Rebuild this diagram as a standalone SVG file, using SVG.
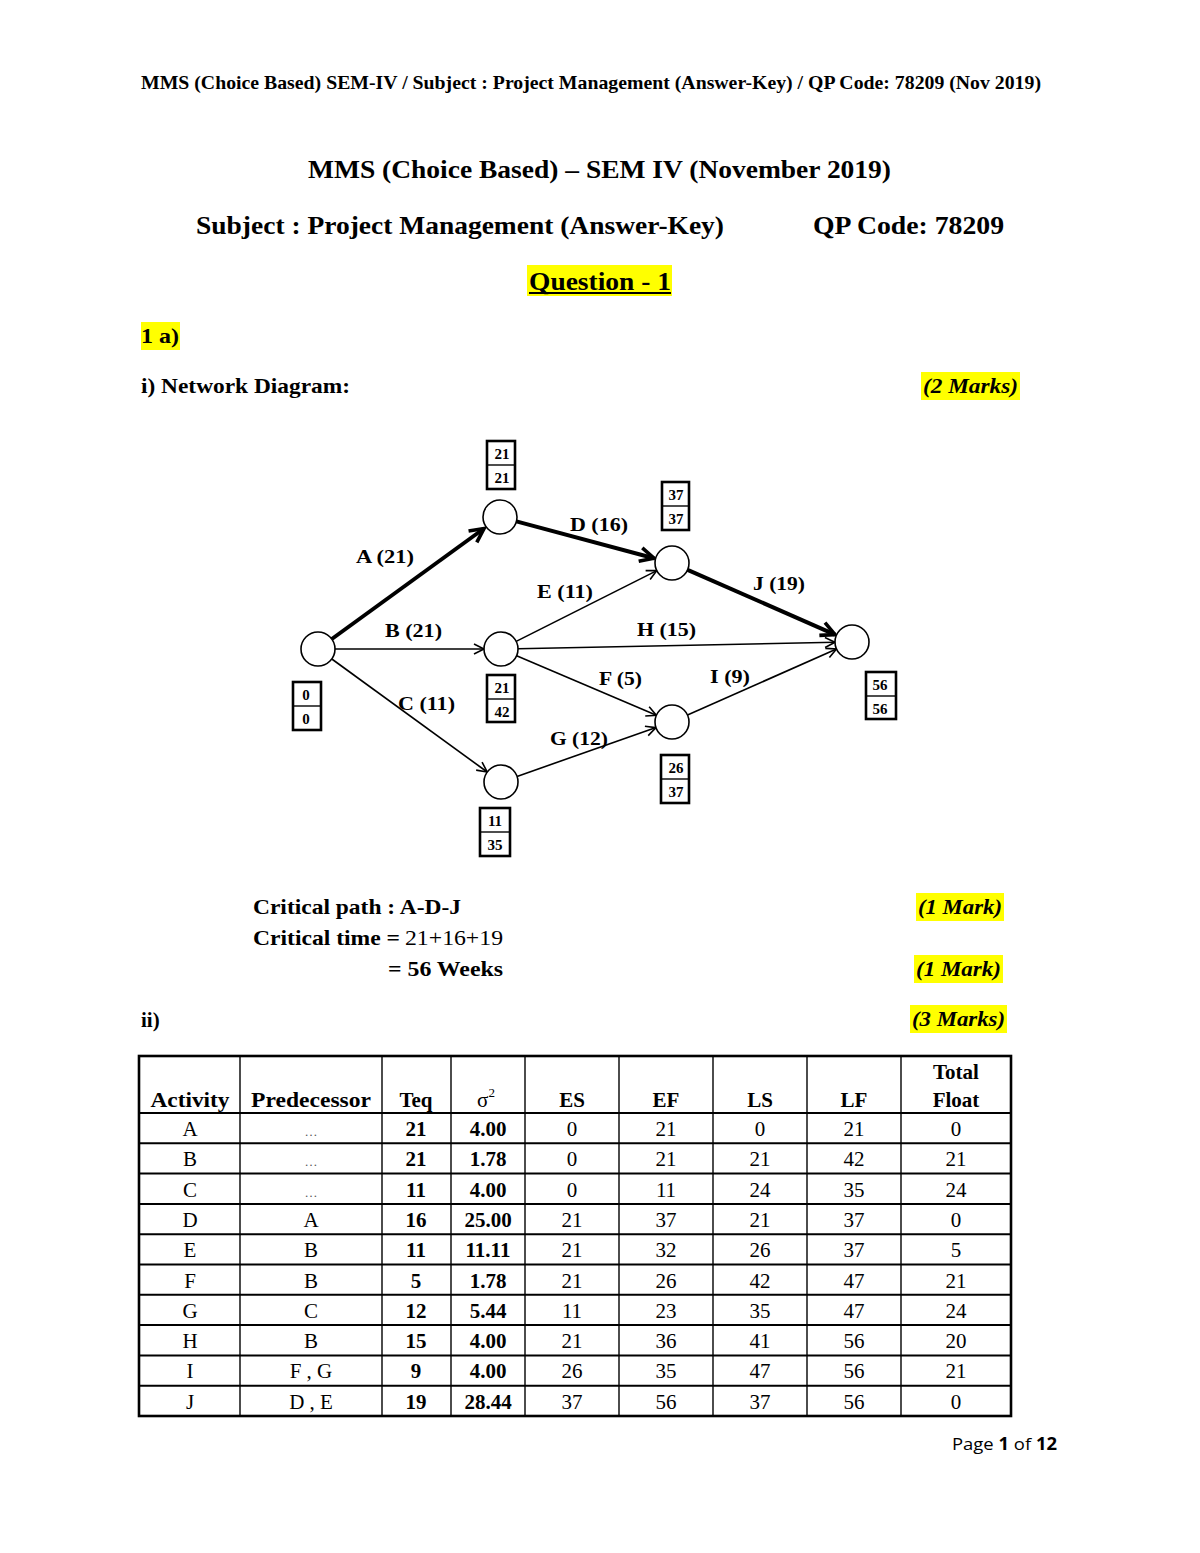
<svg xmlns="http://www.w3.org/2000/svg" width="1200" height="1553" viewBox="0 0 1200 1553">
<style>
text{font-family:"Liberation Serif","Times New Roman",serif;fill:#000}
.b{font-weight:bold}
.i{font-style:italic}
.hl{fill:#FFFF00}
.node{fill:#fff;stroke:#000;stroke-width:1.6}
.box{fill:#fff;stroke:#000;stroke-width:2.6}
.div{stroke:#000;stroke-width:1.4}
.bt{font-size:15px;font-weight:bold;text-anchor:middle}
.thin{stroke:#000;stroke-width:1.6;fill:none;marker-end:url(#ah)}
.thick{stroke:#000;stroke-width:4;fill:none;marker-end:url(#ahb)}
.lbl{font-size:18px;font-weight:bold}
.tc{font-size:21px;text-anchor:middle}
.tb{font-size:21px;text-anchor:middle;font-weight:bold}
.dots{font-size:13px;text-anchor:middle;fill:#555}
.hline{stroke:#000;stroke-width:2}
.vline{stroke:#000;stroke-width:1.4}
</style>
<defs>
<marker id="ah" viewBox="-13 -8 15 16" markerWidth="15" markerHeight="16" refX="0" refY="0" orient="auto" markerUnits="userSpaceOnUse">
<path d="M-10,-5 L0,0 L-10,5" fill="none" stroke="#000" stroke-width="1.6"/>
</marker>
<marker id="ahb" viewBox="-18 -11 22 22" markerWidth="22" markerHeight="22" refX="0" refY="0" orient="auto" markerUnits="userSpaceOnUse">
<path d="M-14,-7 L0,0 L-14,7" fill="none" stroke="#000" stroke-width="3.6"/>
</marker>
</defs>
<rect width="1200" height="1553" fill="#fff"/>

<!-- Header -->
<text x="141" y="89" class="b" font-size="19" textLength="900" lengthAdjust="spacingAndGlyphs">MMS (Choice Based) SEM-IV / Subject : Project Management (Answer-Key) /  QP Code: 78209 (Nov 2019)</text>

<text x="308" y="178" class="b" font-size="26" textLength="583" lengthAdjust="spacingAndGlyphs">MMS (Choice Based) – SEM IV (November 2019)</text>
<text x="196" y="234" class="b" font-size="26" textLength="528" lengthAdjust="spacingAndGlyphs">Subject : Project Management (Answer-Key)</text>
<text x="813" y="234" class="b" font-size="26" textLength="191" lengthAdjust="spacingAndGlyphs">QP Code: 78209</text>

<rect x="527" y="265" width="145" height="31" class="hl"/>
<text x="529" y="290" class="b" font-size="26" textLength="142" lengthAdjust="spacingAndGlyphs">Question - 1</text>
<line x1="529" y1="293" x2="671" y2="293" stroke="#000" stroke-width="2"/>

<rect x="141" y="322" width="39" height="28" class="hl"/>
<text x="141" y="343" class="b" font-size="22" textLength="38" lengthAdjust="spacingAndGlyphs">1 a)</text>

<text x="141" y="393" class="b" font-size="21" textLength="209" lengthAdjust="spacingAndGlyphs">i) Network Diagram:</text>
<rect x="921" y="372" width="99" height="28" class="hl"/>
<text x="923" y="393" class="b i" font-size="21" textLength="95" lengthAdjust="spacingAndGlyphs">(2 Marks)</text>

<!-- Connectors -->
<g id="connectors">
<line id="e-A" x1="331.8" y1="639" x2="484" y2="528.5" class="thick"/>
<line id="e-D" x1="516.4" y1="521.4" x2="654" y2="558.2" class="thick"/>
<line id="e-J" x1="687.6" y1="569.8" x2="835" y2="634.6" class="thick"/>
<line id="e-B" x1="335" y1="649" x2="484" y2="649" class="thin"/>
<line id="e-C" x1="331.8" y1="659" x2="487.2" y2="772" class="thin"/>
<line id="e-E" x1="516.2" y1="641.4" x2="656.8" y2="570.6" class="thin"/>
<line id="e-H" x1="518" y1="648.7" x2="835" y2="642.3" class="thin"/>
<line id="e-F" x1="516.6" y1="655.7" x2="656.4" y2="715.3" class="thin"/>
<line id="e-G" x1="517" y1="776.4" x2="656" y2="727.6" class="thin"/>
<line id="e-I" x1="687.5" y1="715.1" x2="836.5" y2="648.9" class="thin"/>
<text x="356" y="563" class="lbl" textLength="58" lengthAdjust="spacingAndGlyphs">A (21)</text>
<text x="570" y="531" class="lbl" textLength="58" lengthAdjust="spacingAndGlyphs">D (16)</text>
<text x="385" y="637" class="lbl" textLength="57" lengthAdjust="spacingAndGlyphs">B (21)</text>
<text x="537" y="598" class="lbl" textLength="56" lengthAdjust="spacingAndGlyphs">E (11)</text>
<text x="753" y="590" class="lbl" textLength="52" lengthAdjust="spacingAndGlyphs">J (19)</text>
<text x="637" y="636" class="lbl" textLength="59" lengthAdjust="spacingAndGlyphs">H (15)</text>
<text x="599" y="685" class="lbl" textLength="43" lengthAdjust="spacingAndGlyphs">F (5)</text>
<text x="710" y="683" class="lbl" textLength="40" lengthAdjust="spacingAndGlyphs">I (9)</text>
<text x="398" y="710" class="lbl" textLength="57" lengthAdjust="spacingAndGlyphs">C (11)</text>
<text x="550" y="745" class="lbl" textLength="58" lengthAdjust="spacingAndGlyphs">G (12)</text>
</g>

<!-- Nodes -->
<g id="n1"><circle cx="318" cy="649" r="17" class="node"/>
<rect x="293" y="682" width="28" height="48" class="box"/><line x1="293" y1="706" x2="321" y2="706" class="div"/>
<text x="306" y="700" class="bt">0</text><text x="306" y="724" class="bt">0</text></g>
<g id="n2"><circle cx="500" cy="517" r="17" class="node"/>
<rect x="487" y="441" width="28" height="48" class="box"/><line x1="487" y1="465" x2="515" y2="465" class="div"/>
<text x="502" y="459" class="bt">21</text><text x="502" y="483" class="bt">21</text></g>
<g id="n3"><circle cx="501" cy="649" r="17" class="node"/>
<rect x="487" y="675" width="28" height="47" class="box"/><line x1="487" y1="699" x2="515" y2="699" class="div"/>
<text x="502" y="693" class="bt">21</text><text x="502" y="717" class="bt">42</text></g>
<g id="n4"><circle cx="672" cy="563" r="17" class="node"/>
<rect x="662" y="482" width="27" height="48" class="box"/><line x1="662" y1="506" x2="689" y2="506" class="div"/>
<text x="676" y="500" class="bt">37</text><text x="676" y="524" class="bt">37</text></g>
<g id="n5"><circle cx="852" cy="642" r="17" class="node"/>
<rect x="866" y="672" width="30" height="47" class="box"/><line x1="866" y1="696" x2="896" y2="696" class="div"/>
<text x="880" y="690" class="bt">56</text><text x="880" y="714" class="bt">56</text></g>
<g id="n6"><circle cx="672" cy="722" r="17" class="node"/>
<rect x="661" y="755" width="28" height="48" class="box"/><line x1="661" y1="779" x2="689" y2="779" class="div"/>
<text x="676" y="773" class="bt">26</text><text x="676" y="797" class="bt">37</text></g>
<g id="n7"><circle cx="501" cy="782" r="17" class="node"/>
<rect x="480" y="808" width="30" height="48" class="box"/><line x1="480" y1="832" x2="510" y2="832" class="div"/>
<text x="495" y="826" class="bt">11</text><text x="495" y="850" class="bt">35</text></g>

<!-- Critical path -->
<text x="253" y="914" class="b" font-size="21" textLength="208" lengthAdjust="spacingAndGlyphs">Critical path : A-D-J</text>
<rect x="916" y="893" width="88" height="28" class="hl"/>
<text x="918" y="914" class="b i" font-size="21" textLength="84" lengthAdjust="spacingAndGlyphs">(1 Mark)</text>
<text x="253" y="945" font-size="21" class="b" textLength="147" lengthAdjust="spacingAndGlyphs">Critical time =</text>
<text x="405" y="945" font-size="21" textLength="98" lengthAdjust="spacingAndGlyphs">21+16+19</text>
<text x="388" y="976" class="b" font-size="21" textLength="115" lengthAdjust="spacingAndGlyphs">= 56 Weeks</text>
<rect x="914" y="955" width="89" height="28" class="hl"/>
<text x="916" y="976" class="b i" font-size="21" textLength="85" lengthAdjust="spacingAndGlyphs">(1 Mark)</text>
<text x="141" y="1027" class="b" font-size="21">ii)</text>
<rect x="910" y="1005" width="97" height="28" class="hl"/>
<text x="912" y="1026" class="b i" font-size="21" textLength="93" lengthAdjust="spacingAndGlyphs">(3 Marks)</text>

<!-- Table -->
<g id="table">
<g class="hline">
<line x1="139" y1="1113" x2="1011" y2="1113"/>
<line x1="139" y1="1143.3" x2="1011" y2="1143.3"/>
<line x1="139" y1="1173.6" x2="1011" y2="1173.6"/>
<line x1="139" y1="1204" x2="1011" y2="1204"/>
<line x1="139" y1="1234.2" x2="1011" y2="1234.2"/>
<line x1="139" y1="1264.5" x2="1011" y2="1264.5"/>
<line x1="139" y1="1294.8" x2="1011" y2="1294.8"/>
<line x1="139" y1="1325.1" x2="1011" y2="1325.1"/>
<line x1="139" y1="1355.4" x2="1011" y2="1355.4"/>
<line x1="139" y1="1385.7" x2="1011" y2="1385.7"/>
</g>
<g class="vline">
<line x1="240" y1="1056" x2="240" y2="1416"/>
<line x1="382" y1="1056" x2="382" y2="1416"/>
<line x1="451" y1="1056" x2="451" y2="1416"/>
<line x1="525" y1="1056" x2="525" y2="1416"/>
<line x1="619" y1="1056" x2="619" y2="1416"/>
<line x1="713" y1="1056" x2="713" y2="1416"/>
<line x1="807" y1="1056" x2="807" y2="1416"/>
<line x1="901" y1="1056" x2="901" y2="1416"/>
</g>
<rect x="139" y="1056" width="872" height="360" fill="none" stroke="#000" stroke-width="2.6"/>

<text x="190" y="1107" class="tb" textLength="79" lengthAdjust="spacingAndGlyphs">Activity</text>
<text x="311" y="1107" class="tb" textLength="120" lengthAdjust="spacingAndGlyphs">Predecessor</text>
<text x="416" y="1107" class="tb">Teq</text>
<text x="486" y="1107" class="tc">σ<tspan font-size="13" dy="-10">2</tspan></text>
<text x="572" y="1107" class="tb">ES</text>
<text x="666" y="1107" class="tb">EF</text>
<text x="760" y="1107" class="tb">LS</text>
<text x="854" y="1107" class="tb">LF</text>
<text x="956" y="1079" class="tb">Total</text>
<text x="956" y="1107" class="tb">Float</text>

<g id="rowA"><text x="190" y="1136" class="tc">A</text><text x="311" y="1136" class="dots">…</text><text x="416" y="1136" class="tb">21</text><text x="488" y="1136" class="tb">4.00</text><text x="572" y="1136" class="tc">0</text><text x="666" y="1136" class="tc">21</text><text x="760" y="1136" class="tc">0</text><text x="854" y="1136" class="tc">21</text><text x="956" y="1136" class="tc">0</text></g>
<g id="rowB"><text x="190" y="1166.3" class="tc">B</text><text x="311" y="1166.3" class="dots">…</text><text x="416" y="1166.3" class="tb">21</text><text x="488" y="1166.3" class="tb">1.78</text><text x="572" y="1166.3" class="tc">0</text><text x="666" y="1166.3" class="tc">21</text><text x="760" y="1166.3" class="tc">21</text><text x="854" y="1166.3" class="tc">42</text><text x="956" y="1166.3" class="tc">21</text></g>
<g id="rowC"><text x="190" y="1196.6" class="tc">C</text><text x="311" y="1196.6" class="dots">…</text><text x="416" y="1196.6" class="tb">11</text><text x="488" y="1196.6" class="tb">4.00</text><text x="572" y="1196.6" class="tc">0</text><text x="666" y="1196.6" class="tc">11</text><text x="760" y="1196.6" class="tc">24</text><text x="854" y="1196.6" class="tc">35</text><text x="956" y="1196.6" class="tc">24</text></g>
<g id="rowD"><text x="190" y="1227" class="tc">D</text><text x="311" y="1227" class="tc">A</text><text x="416" y="1227" class="tb">16</text><text x="488" y="1227" class="tb">25.00</text><text x="572" y="1227" class="tc">21</text><text x="666" y="1227" class="tc">37</text><text x="760" y="1227" class="tc">21</text><text x="854" y="1227" class="tc">37</text><text x="956" y="1227" class="tc">0</text></g>
<g id="rowE"><text x="190" y="1257.2" class="tc">E</text><text x="311" y="1257.2" class="tc">B</text><text x="416" y="1257.2" class="tb">11</text><text x="488" y="1257.2" class="tb">11.11</text><text x="572" y="1257.2" class="tc">21</text><text x="666" y="1257.2" class="tc">32</text><text x="760" y="1257.2" class="tc">26</text><text x="854" y="1257.2" class="tc">37</text><text x="956" y="1257.2" class="tc">5</text></g>
<g id="rowF"><text x="190" y="1287.5" class="tc">F</text><text x="311" y="1287.5" class="tc">B</text><text x="416" y="1287.5" class="tb">5</text><text x="488" y="1287.5" class="tb">1.78</text><text x="572" y="1287.5" class="tc">21</text><text x="666" y="1287.5" class="tc">26</text><text x="760" y="1287.5" class="tc">42</text><text x="854" y="1287.5" class="tc">47</text><text x="956" y="1287.5" class="tc">21</text></g>
<g id="rowG"><text x="190" y="1317.8" class="tc">G</text><text x="311" y="1317.8" class="tc">C</text><text x="416" y="1317.8" class="tb">12</text><text x="488" y="1317.8" class="tb">5.44</text><text x="572" y="1317.8" class="tc">11</text><text x="666" y="1317.8" class="tc">23</text><text x="760" y="1317.8" class="tc">35</text><text x="854" y="1317.8" class="tc">47</text><text x="956" y="1317.8" class="tc">24</text></g>
<g id="rowH"><text x="190" y="1348.1" class="tc">H</text><text x="311" y="1348.1" class="tc">B</text><text x="416" y="1348.1" class="tb">15</text><text x="488" y="1348.1" class="tb">4.00</text><text x="572" y="1348.1" class="tc">21</text><text x="666" y="1348.1" class="tc">36</text><text x="760" y="1348.1" class="tc">41</text><text x="854" y="1348.1" class="tc">56</text><text x="956" y="1348.1" class="tc">20</text></g>
<g id="rowI"><text x="190" y="1378.4" class="tc">I</text><text x="311" y="1378.4" class="tc">F , G</text><text x="416" y="1378.4" class="tb">9</text><text x="488" y="1378.4" class="tb">4.00</text><text x="572" y="1378.4" class="tc">26</text><text x="666" y="1378.4" class="tc">35</text><text x="760" y="1378.4" class="tc">47</text><text x="854" y="1378.4" class="tc">56</text><text x="956" y="1378.4" class="tc">21</text></g>
<g id="rowJ"><text x="190" y="1408.7" class="tc">J</text><text x="311" y="1408.7" class="tc">D , E</text><text x="416" y="1408.7" class="tb">19</text><text x="488" y="1408.7" class="tb">28.44</text><text x="572" y="1408.7" class="tc">37</text><text x="666" y="1408.7" class="tc">56</text><text x="760" y="1408.7" class="tc">37</text><text x="854" y="1408.7" class="tc">56</text><text x="956" y="1408.7" class="tc">0</text></g>
</g>

<text x="952" y="1450" font-size="17" style="font-family:'Open Sans','Liberation Sans',sans-serif" textLength="105" lengthAdjust="spacingAndGlyphs">Page <tspan font-weight="bold">1</tspan> of <tspan font-weight="bold">12</tspan></text>
</svg>
